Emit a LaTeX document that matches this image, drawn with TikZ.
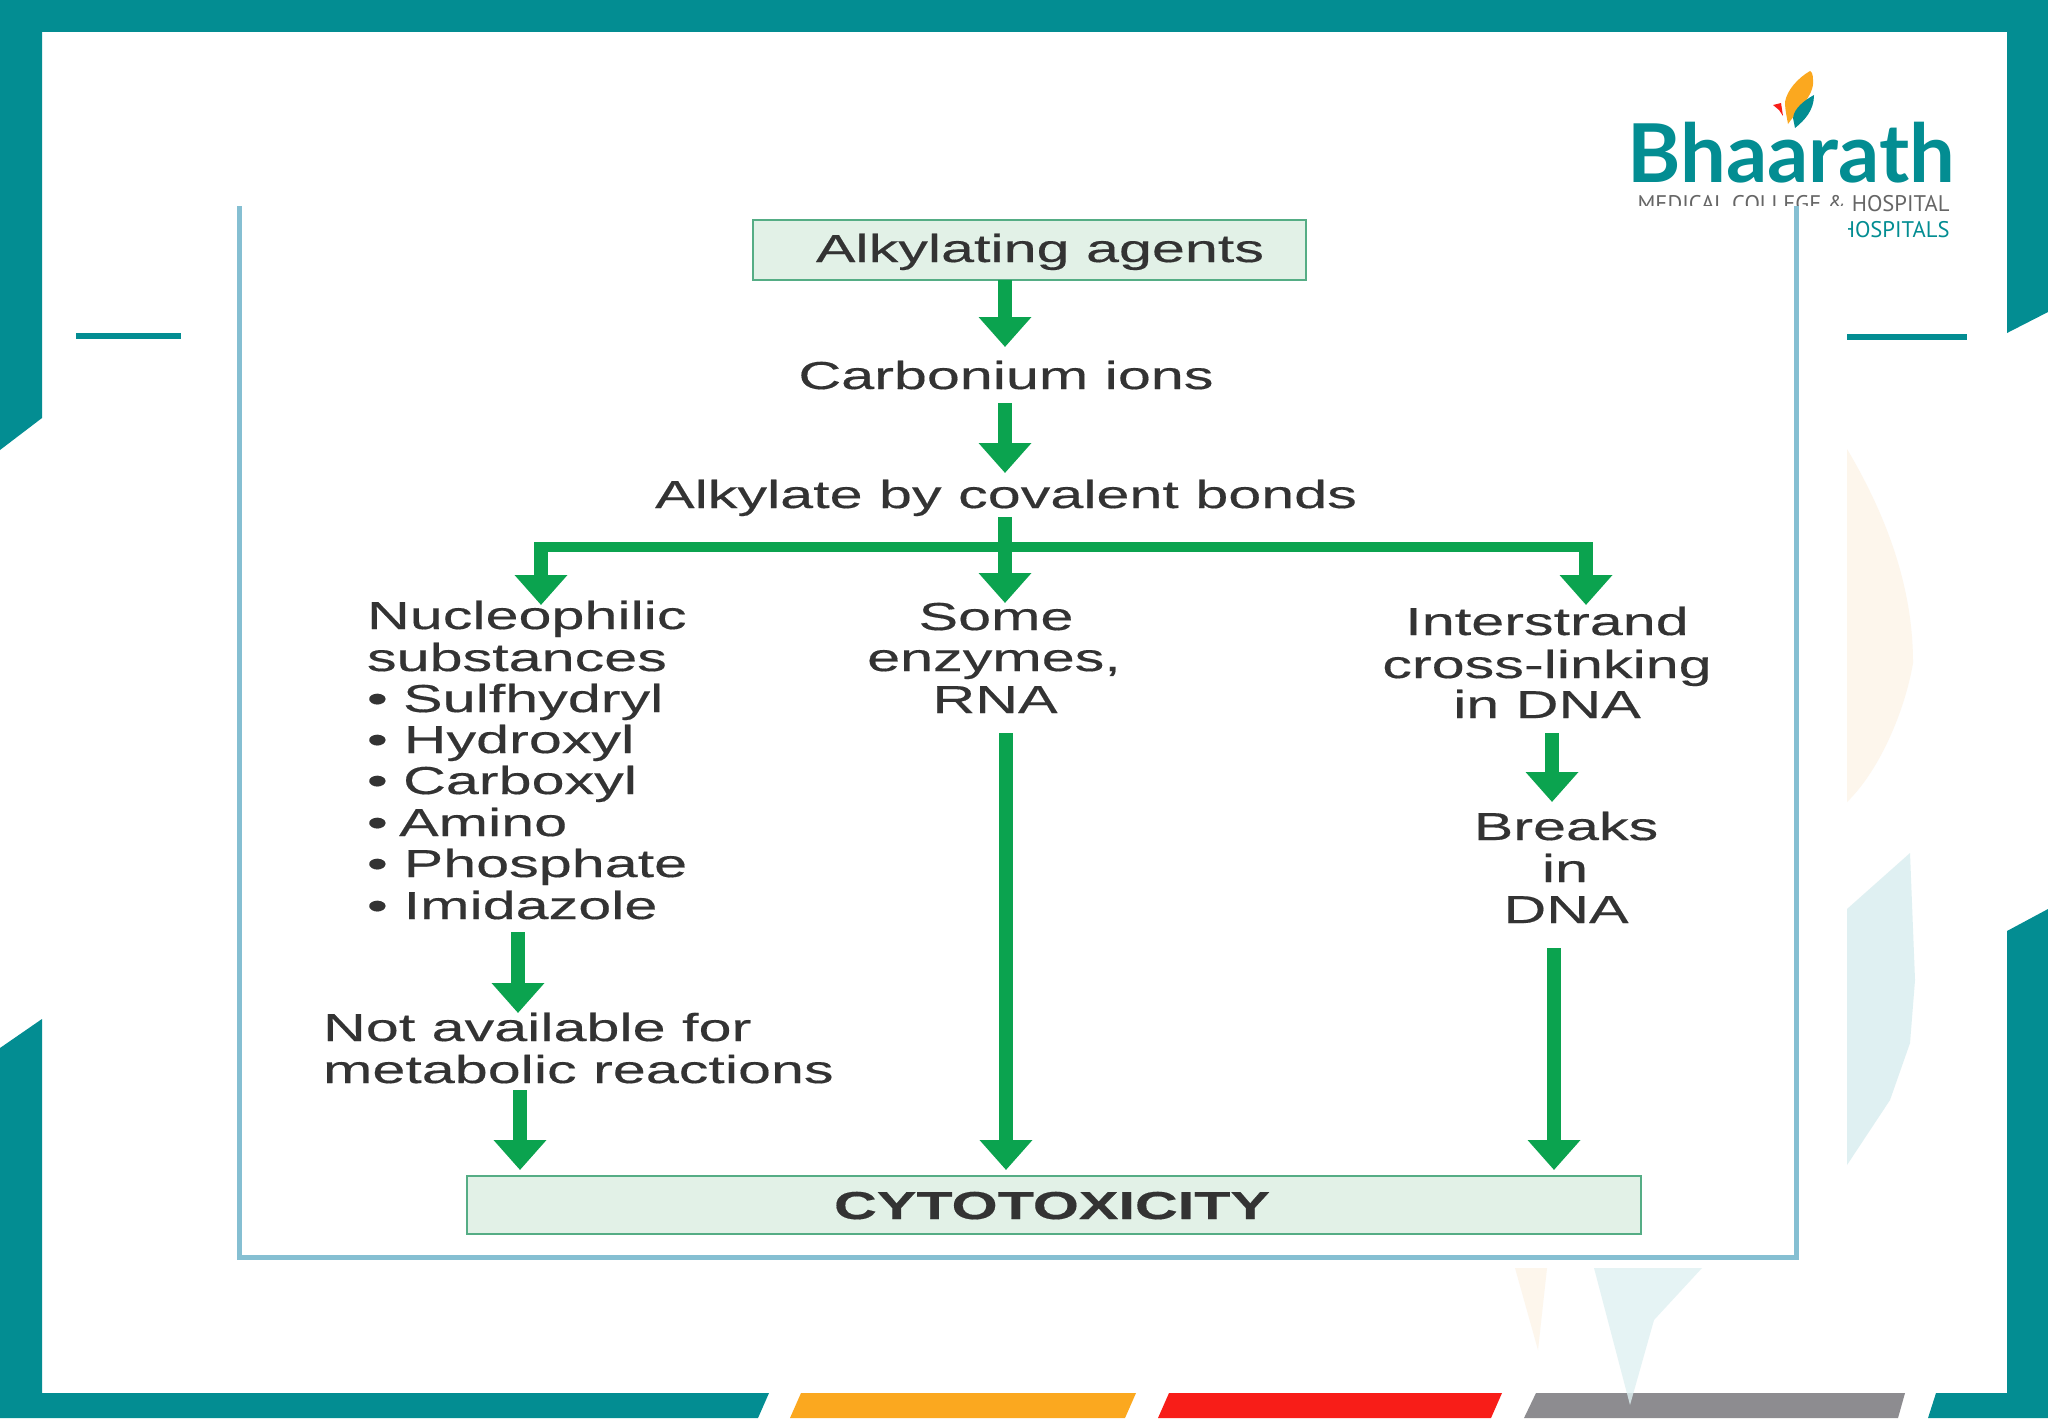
\documentclass[tikz,border=0pt]{standalone}
\usepackage{fontspec}
\usetikzlibrary{arrows.meta}
\setmainfont{Liberation Sans}
\newfontfamily\dg[FakeStretch=1.52,FakeBold=0.35]{Liberation Sans}
\newfontfamily\logofont{Lato}
\newfontfamily\logosub{PT Sans}
\definecolor{teal0}{HTML}{038D92}
\definecolor{green0}{HTML}{0BA34F}
\definecolor{boxfill}{HTML}{E2F1E7}
\definecolor{boxline}{HTML}{55AD85}
\definecolor{frameline}{HTML}{85BFD2}
\definecolor{txt}{HTML}{333333}
\definecolor{bar1}{HTML}{FBA81F}
\definecolor{bar2}{HTML}{F81D18}
\definecolor{bar3}{HTML}{8D8C90}
\definecolor{faintor}{HTML}{FDF6EC}
\definecolor{faintbl}{HTML}{DFF0F2}
\tikzset{
  lbl/.style={inner sep=0pt,outer sep=0pt,text=txt,yshift=-0.5pt,font=\dg\fontsize{19.5}{19.5}\selectfont},
  lblw/.style={lbl,anchor=base west},
  lblc/.style={lbl,anchor=base},
  flow/.style={draw=green0,line width=7pt,-{Triangle[width=25.5pt,length=15pt]}},
  rail/.style={draw=green0,line width=5pt},
  greenbox/.style={draw=boxline,line width=1.3pt,fill=boxfill,inner sep=0pt,outer sep=0pt},
}
\begin{document}
\begin{tikzpicture}[x=0.5pt,y=-0.5pt]
\useasboundingbox (0,0) rectangle (2048,1418);
\fill[white] (0,0) rectangle (2048,1418);
% faint background shapes
\fill[faintor] (1847,449) .. controls (1895,530) and (1913,600) .. (1913,663) .. controls (1905,710) and (1880,770) .. (1847,802) -- cycle;
\fill[faintbl] (1847,909) -- (1910,853) -- (1915,980) -- (1910,1043) -- (1890,1100) -- (1847,1165) -- cycle;
\fill[faintor] (1515,1268) -- (1547,1268) -- (1538,1350) -- cycle;
% frame
\fill[teal0] (0,0) rectangle (2048,32);
\fill[teal0] (0,0) -- (42,0) -- (42,418) -- (0,450) -- cycle;
\fill[teal0] (0,1048) -- (42,1019) -- (42,1393) -- (769,1393) -- (758,1418) -- (0,1418) -- cycle;
\fill[teal0] (2007,0) -- (2048,0) -- (2048,312) -- (2007,333) -- cycle;
\fill[teal0] (2007,931) -- (2048,909) -- (2048,1418) -- (1928,1418) -- (1936,1393) -- (2007,1393) -- cycle;
\fill[bar1] (801,1393) -- (1136,1393) -- (1125,1418) -- (790,1418) -- cycle;
\fill[bar2] (1169,1393) -- (1502,1393) -- (1491,1418) -- (1158,1418) -- cycle;
\fill[bar3] (1536,1393) -- (1905,1393) -- (1898,1418) -- (1524,1418) -- cycle;
\fill[faintbl,opacity=.8] (1594,1268) -- (1702,1268) -- (1654,1320) -- (1630,1405) -- cycle;
% side dashes
\fill[teal0] (76,333) rectangle (181,339);
\fill[teal0] (1847,334) rectangle (1967,340);
% logo
\node[inner sep=0pt,anchor=base west,text=teal0,font=\logofont\bfseries\fontsize{40.6}{41}\selectfont] (logo) at (1627,182) {Bhaarath};
\node[inner sep=0pt,anchor=base east,text=black!60,font=\logosub\fontsize{11.3}{12}\selectfont] (logoa) at (1950,211) {MEDICAL COLLEGE \& HOSPITAL};
\node[inner sep=0pt,anchor=base east,text=teal0,font=\logosub\fontsize{11.3}{12}\selectfont] (logob) at (1950,237) {HOSPITALS};
\fill[bar1] (1810,71) .. controls (1798,78) and (1787,90) .. (1785,102) .. controls (1785,110) and (1787,118) .. (1788,124) .. controls (1796,112) and (1815,95) .. (1813,80) .. controls (1813,75) and (1812,72) .. (1810,71) -- cycle;
\fill[teal0] (1814,95) .. controls (1805,100) and (1794,108) .. (1793,118) -- (1795,128) .. controls (1805,120) and (1814,110) .. (1814,95) -- cycle;
\fill[bar2] (1773,105) -- (1781,103) -- (1783,116) -- (1779,110) -- cycle;
% diagram sheet
\fill[white] (241,206) rectangle (1793,1255);
\fill[white] (1793,206) rectangle (1848,242);
\draw[frameline,line width=2.5pt] (239,206) -- (239,1257) -- (1796,1257) -- (1796,206);
% nodes
\node[greenbox,minimum width=276.5pt,minimum height=30pt,anchor=north west] (alk) at (753,220) {};
\node[lblc] (alkt) at (1040,261) {Alkylating agents};
\node[lblc] (carb) at (1006,388) {Carbonium ions};
\node[lblc] (cov) at (1006,507) {Alkylate by covalent bonds};
\node[lblw] (nuc) at (367,628) {Nucleophilic};
\node[lblw] (sub) at (367,670) {substances};
\node[lblw] (b1) at (367,711) {•\hspace{7.7pt}Sulfhydryl};
\node[lblw] (b2) at (367,752) {•\hspace{8pt}Hydroxyl};
\node[lblw] (b3) at (367,793) {•\hspace{7.7pt}Carboxyl};
\node[lblw] (b4) at (367,835) {•\hspace{5.7pt}Amino};
\node[lblw] (b5) at (367,876) {•\hspace{8pt}Phosphate};
\node[lblw] (b6) at (367,918) {•\hspace{8pt}Imidazole};
\node[lblw] (na) at (323,1040) {Not available for};
\node[lblw] (mr) at (323,1082) {metabolic reactions};
\node[lblc] (some) at (996,629) {Some};
\node[lblc] (enz) at (994,670) {enzymes,};
\node[lblc] (rna) at (995,712) {RNA};
\node[lblc] (int) at (1547,634) {Interstrand};
\node[lblc] (cross) at (1547,677) {cross-linking};
\node[lblc] (ind) at (1547,717) {in DNA};
\node[lblc] (brk) at (1566,839) {Breaks};
\node[lblc] (in) at (1565,881) {in};
\node[lblc] (dna) at (1566,922) {DNA};
\node[greenbox,minimum width=587pt,minimum height=29pt,anchor=north west] (cyto) at (467,1176) {};
\node[lbl,anchor=base,font=\dg\bfseries\fontsize{19.5}{20}\selectfont] (cytot) at (1052,1218) {CYTOTOXICITY};
% connector ends
\coordinate (a1s) at (1005,280); \coordinate (a1e) at (1005,347);
\coordinate (a2s) at (1005,403); \coordinate (a2e) at (1005,473);
\coordinate (a3s) at (1005,517); \coordinate (a3e) at (1005,603);
\coordinate (railL) at (541,547); \coordinate (railR) at (1586,547);
\coordinate (a4e) at (541,605); \coordinate (a5e) at (1586,605);
\coordinate (a6s) at (518,932); \coordinate (a6e) at (518,1013);
\coordinate (a7s) at (520,1090); \coordinate (a7e) at (520,1170);
\coordinate (a8s) at (1006,733); \coordinate (a8e) at (1006,1170);
\coordinate (a9s) at (1552,733); \coordinate (a9e) at (1552,802);
\coordinate (a10s) at (1554,948); \coordinate (a10e) at (1554,1170);
% connectors
\draw[rail] ([xshift=-3.5pt]railL) -- ([xshift=3.5pt]railR);
\draw[flow] (a1s) -- (a1e);
\draw[flow] (a2s) -- (a2e);
\draw[flow] (a3s) -- (a3e);
\draw[flow] ([yshift=2.5pt]railL) -- (a4e);
\draw[flow] ([yshift=2.5pt]railR) -- (a5e);
\draw[flow] (a6s) -- (a6e);
\draw[flow] (a7s) -- (a7e);
\draw[flow] (a8s) -- (a8e);
\draw[flow] (a9s) -- (a9e);
\draw[flow] (a10s) -- (a10e);
\end{tikzpicture}
\end{document}
